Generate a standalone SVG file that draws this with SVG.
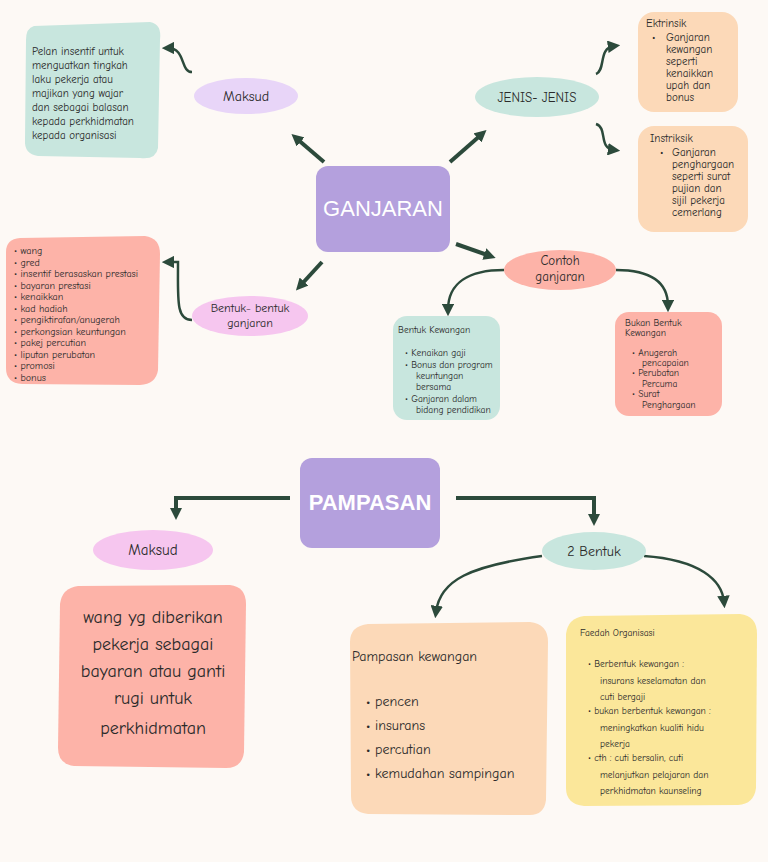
<svg xmlns="http://www.w3.org/2000/svg" width="768" height="862" viewBox="0 0 768 862">
<defs>
<marker id="ah" viewBox="0 0 10 10" refX="5" refY="5" markerWidth="3" markerHeight="3" orient="auto"><path d="M0,0 L10,5 L0,10 z" fill="#2c4a3b"/></marker>
<marker id="ah2" viewBox="0 0 10 10" refX="5" refY="5" markerWidth="5" markerHeight="5" orient="auto"><path d="M0,0 L10,5 L0,10 z" fill="#2c4a3b"/></marker>
<style>
.t{font-family:"Comic Neue","Liberation Sans",sans-serif;fill:#2a2a2a}
.s{font-size:11px}
.c{stroke:#2c4a3b;fill:none;stroke-width:4}
.c2{stroke:#2c4a3b;fill:none;stroke-width:2.5}
</style>
</defs>
<rect width="768" height="862" fill="#fdf9f5"/>
<g id="connectors">
<path class="c" d="M324,162 L296,138" marker-end="url(#ah)"/>
<path class="c" d="M450,162 L482,134" marker-end="url(#ah)"/>
<path class="c" d="M456,244 L490,256" marker-end="url(#ah)"/>
<path class="c" d="M322,262 L300,286" marker-end="url(#ah)"/>
<path class="c2" d="M192,72 C180,72 186,48 168,48" marker-end="url(#ah2)"/>
<path class="c2" d="M596,74 C606,70 598,48 614,46" marker-end="url(#ah2)"/>
<path class="c2" d="M596,124 C608,128 598,148 614,150" marker-end="url(#ah2)"/>
<path class="c2" d="M192,320 C176,320 178,300 178,262 L168,262" marker-end="url(#ah2)"/>
<path class="c2" d="M504,270 C470,270 448,282 448,310" marker-end="url(#ah2)"/>
<path class="c2" d="M616,270 C650,270 668,282 668,306" marker-end="url(#ah2)"/>
<path class="c" d="M290,498 L176,498 L176,514" marker-end="url(#ah)"/>
<path class="c" d="M456,498 L594,498 L594,520" marker-end="url(#ah)"/>
<path class="c2" d="M542,556 C470,566 440,580 436,612" marker-end="url(#ah2)"/>
<path class="c2" d="M644,556 C700,560 722,580 724,602" marker-end="url(#ah2)"/>
</g>
<g id="n-maksud-box"><path d="M34,26 L150,22 Q162,24 160,40 L158,148 Q156,160 140,158 L38,156 Q24,154 25,140 L26,40 Q26,28 34,26z" fill="#c8e6de"/>
<text class="t s"><tspan x="32" y="55">Pelan insentif untuk</tspan><tspan x="32" y="69">menguatkan tingkah</tspan><tspan x="32" y="83">laku pekerja atau</tspan><tspan x="32" y="97">majikan yang wajar</tspan><tspan x="32" y="111">dan sebagai balasan</tspan><tspan x="32" y="125">kepada perkhidmatan</tspan><tspan x="32" y="139">kepada organisasi</tspan></text></g>
<g id="n-maksud"><ellipse cx="246" cy="96" rx="52" ry="18" fill="#e8d5f8"/><text class="t" x="246" y="101" font-size="14" text-anchor="middle">Maksud</text></g>
<g id="n-jenis"><ellipse cx="537" cy="97" rx="62" ry="20" fill="#c8e6de"/><text class="t" x="537" y="102" font-size="13" text-anchor="middle">JENIS- JENIS</text></g>
<g id="n-ektrinsik"><rect x="638" y="12" width="100" height="100" rx="16" fill="#fcd9b8"/>
<text class="t s"><tspan x="646" y="27">Ektrinsik</tspan><tspan x="652" y="41">•</tspan><tspan x="666" y="41">Ganjaran</tspan><tspan x="666" y="53">kewangan</tspan><tspan x="666" y="65">seperti</tspan><tspan x="666" y="77">kenaikkan</tspan><tspan x="666" y="89">upah dan</tspan><tspan x="666" y="101">bonus</tspan></text></g>
<g id="n-instriksik"><rect x="638" y="126" width="110" height="106" rx="16" fill="#fcd9b8"/>
<text class="t s"><tspan x="650" y="142">Instriksik</tspan><tspan x="660" y="156">•</tspan><tspan x="672" y="156">Ganjaran</tspan><tspan x="672" y="168">penghargaan</tspan><tspan x="672" y="180">seperti surat</tspan><tspan x="672" y="192">pujian dan</tspan><tspan x="672" y="204">sijil pekerja</tspan><tspan x="672" y="216">cemerlang</tspan></text></g>
<g id="n-ganjaran"><rect x="316" y="166" width="134" height="86" rx="12" fill="#b4a0dd"/><text x="383" y="216" font-family="Liberation Sans,sans-serif" font-size="22" fill="#fff" text-anchor="middle">GANJARAN</text></g>
<g id="n-contoh"><ellipse cx="560" cy="270" rx="56" ry="20" fill="#fdb3a8"/><text class="t" font-size="13" text-anchor="middle"><tspan x="560" y="265">Contoh</tspan><tspan x="560" y="281">ganjaran</tspan></text></g>
<g id="n-bentuk"><ellipse cx="250" cy="316" rx="58" ry="20" fill="#f6c6ef"/><text class="t" font-size="12" text-anchor="middle"><tspan x="250" y="312">Bentuk- bentuk</tspan><tspan x="250" y="327">ganjaran</tspan></text></g>
<g id="n-senarai"><path d="M20,238 L145,236 Q160,238 160,254 L158,370 Q156,384 140,385 L22,384 Q6,383 6,368 L6,252 Q6,239 20,238z" fill="#fdb3a8"/>
<text class="t" font-size="10"><tspan x="14" y="254">•  wang</tspan><tspan x="14" y="265.5">•  gred</tspan><tspan x="14" y="277">•  insentif berasaskan prestasi</tspan><tspan x="14" y="288.5">•  bayaran prestasi</tspan><tspan x="14" y="300">•  kenaikkan</tspan><tspan x="14" y="311.5">•  kad hadiah</tspan><tspan x="14" y="323">•  pengiktirafan/anugerah</tspan><tspan x="14" y="334.5">•  perkongsian keuntungan</tspan><tspan x="14" y="346">•  pakej percutian</tspan><tspan x="14" y="357.5">•  liputan perubatan</tspan><tspan x="14" y="369">•  promosi</tspan><tspan x="14" y="380.5">•  bonus</tspan></text></g>
<g id="n-kewangan"><rect x="393" y="316" width="107" height="104" rx="14" fill="#c8e6de"/>
<text class="t" font-size="9.5"><tspan x="398" y="333">Bentuk Kewangan</tspan><tspan x="405" y="356">•  Kenaikan gaji</tspan><tspan x="405" y="368">•  Bonus dan program</tspan><tspan x="416" y="379">keuntungan</tspan><tspan x="416" y="390">bersama</tspan><tspan x="405" y="402">•  Ganjaran dalam</tspan><tspan x="416" y="413">bidang pendidikan</tspan></text></g>
<g id="n-bukan"><rect x="615" y="312" width="107" height="104" rx="14" fill="#fdb3a8"/>
<text class="t" font-size="9.5"><tspan x="625" y="326">Bukan Bentuk</tspan><tspan x="625" y="336">Kewangan</tspan><tspan x="632" y="356">•  Anugerah</tspan><tspan x="642" y="366">pencapaian</tspan><tspan x="632" y="376">•  Perubatan</tspan><tspan x="642" y="387">Percuma</tspan><tspan x="632" y="397">•  Surat</tspan><tspan x="642" y="408">Penghargaan</tspan></text></g>
<g id="n-pampasan"><rect x="300" y="458" width="140" height="90" rx="12" fill="#b4a0dd"/><text x="370" y="510" font-family="Liberation Sans,sans-serif" font-size="22" font-weight="bold" fill="#fff" text-anchor="middle">PAMPASAN</text></g>
<g id="n-maksud2"><ellipse cx="153" cy="550" rx="60" ry="20" fill="#f6c6ef"/><text class="t" x="153" y="555" font-size="15" text-anchor="middle">Maksud</text></g>
<g id="n-2bentuk"><ellipse cx="594" cy="551" rx="52" ry="19" fill="#c8e6de"/><text class="t" x="594" y="556" font-size="14" text-anchor="middle">2 Bentuk</text></g>
<g id="n-maksud2-box"><path d="M78,586 L230,585 Q246,587 246,604 L244,752 Q242,768 226,768 L74,766 Q58,764 58,748 L60,604 Q62,588 78,586z" fill="#fdb3a8"/>
<text class="t" font-size="18" text-anchor="middle"><tspan x="153" y="623">wang yg diberikan</tspan><tspan x="153" y="650">pekerja sebagai</tspan><tspan x="153" y="677">bayaran atau ganti</tspan><tspan x="153" y="704">rugi untuk</tspan><tspan x="153" y="734">perkhidmatan</tspan></text></g>
<g id="n-kewangan2"><path d="M368,624 L530,622 Q548,624 548,642 L546,800 Q544,816 528,815 L368,814 Q351,812 351,796 L350,642 Q350,626 368,624z" fill="#fcd9b8"/>
<text class="t" font-size="14"><tspan x="352" y="661">Pampasan kewangan</tspan><tspan x="366" y="706">•  pencen</tspan><tspan x="366" y="730">•  insurans</tspan><tspan x="366" y="754">•  percutian</tspan><tspan x="366" y="778">•   kemudahan sampingan</tspan></text></g>
<g id="n-faedah"><path d="M584,616 L740,614 Q757,616 757,634 L756,788 Q754,804 738,805 L584,806 Q566,804 566,788 L566,634 Q568,618 584,616z" fill="#fbe79a"/>
<text class="t" font-size="9.5"><tspan x="580" y="636">Faedah Organisasi</tspan><tspan x="588" y="667">•  Berbentuk kewangan :</tspan><tspan x="600" y="684">insurans keselamatan dan</tspan><tspan x="600" y="700">cuti bergaji</tspan><tspan x="588" y="714">•  bukan berbentuk kewangan :</tspan><tspan x="600" y="731">meningkatkan kualiti hidu</tspan><tspan x="600" y="747">pekerja</tspan><tspan x="588" y="761">•  cth : cuti bersalin, cuti</tspan><tspan x="600" y="778">melanjutkan pelajaran dan</tspan><tspan x="600" y="794">perkhidmatan kaunseling</tspan></text></g>
</svg>
